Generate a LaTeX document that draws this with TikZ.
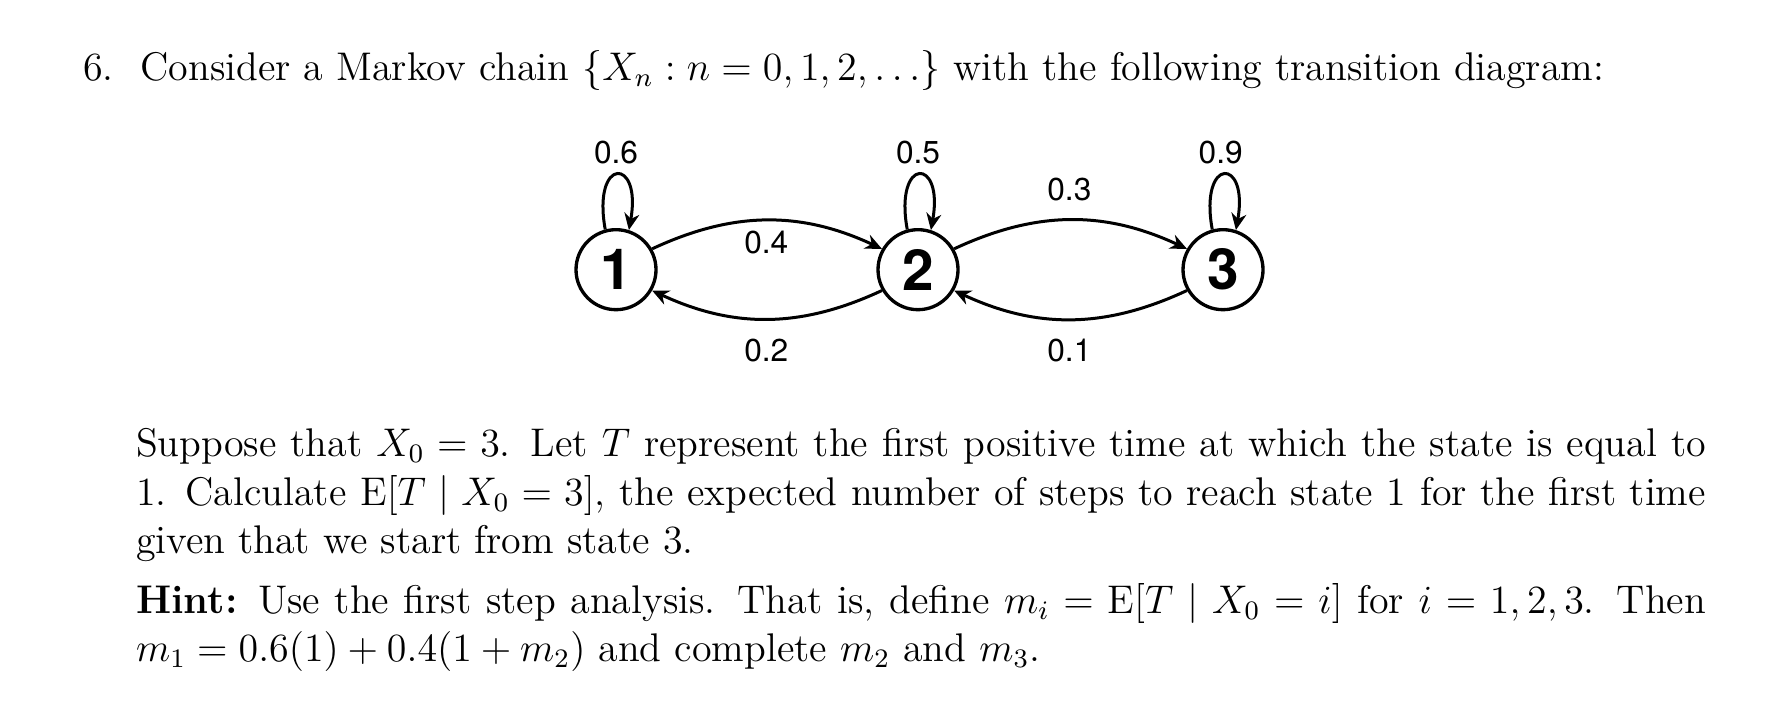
\documentclass[tikz,border=0pt]{standalone}
\usepackage{amsmath}
\usepackage{fontspec}
\newfontfamily\lblfont{TeX Gyre Heros}
\usetikzlibrary{arrows.meta}
\tikzset{
  state/.style={circle,draw,line width=1pt,minimum size=24pt,inner sep=0pt,font=\lblfont\fontsize{17}{17}\selectfont\bfseries},
  lbl/.style={font=\lblfont\fontsize{9.5}{10}\selectfont,inner sep=0pt},
  edge/.style={-{Stealth[length=5pt,width=4.5pt]},line width=0.9pt},
  txt/.style={anchor=base west,inner sep=0pt,font=\fontsize{12}{14.5}\selectfont}
}
\begin{document}
\begin{tikzpicture}[x=1pt,y=1pt]
\useasboundingbox (0,0) rectangle (537,-212.4);
\node[txt] (q) at (24.8,-24) {6.\hspace{8pt}Consider a Markov chain $\{X_n : n=0,1,2,\ldots\}$ with the following transition diagram:};
\node[state] (s1) at (184.8,-80.9) {1};
\node[state] (s2) at (275.4,-80.9) {2};
\node[state] (s3) at (366.9,-80.9) {3};
\draw[edge] (s1.30) to[bend left=25] (s2.150);
\draw[edge] (s2.210) to[bend left=25] (s1.330);
\draw[edge] (s2.30) to[bend left=25] (s3.150);
\draw[edge] (s3.210) to[bend left=25] (s2.330);
\foreach \s in {s1,s2,s3}{\draw[edge] (\s.105) .. controls +(-4,22) and +(4,22) .. (\s.72);}
\node[lbl] (l6) at (184.8,-45.8) {0.6};
\node[lbl] (l5) at (275.4,-45.8) {0.5};
\node[lbl] (l9) at (366.2,-45.8) {0.9};
\node[lbl] (l3) at (320.8,-56.8) {0.3};
\node[lbl] (l4) at (229.9,-72.6) {0.4};
\node[lbl] (l2) at (229.9,-105) {0.2};
\node[lbl] (l1) at (320.8,-105) {0.1};
\node[txt,text width=471pt,align=justify] (p1) at (40.6,-137) {Suppose that $X_0=3$. Let $T$ represent the first positive time at which the state is equal to 1. Calculate $\mathrm{E}[T\mid X_0=3]$, the expected number of steps to reach state 1 for the first time given that we start from state 3.};
\node[txt,text width=471pt,align=justify] (p2) at (40.6,-184) {\textbf{Hint:} Use the first step analysis. That is, define $m_i=\mathrm{E}[T\mid X_0=i]$ for $i=1,2,3$. Then $m_1=0.6(1)+0.4(1+m_2)$ and complete $m_2$ and $m_3$.};
\end{tikzpicture}
\end{document}
